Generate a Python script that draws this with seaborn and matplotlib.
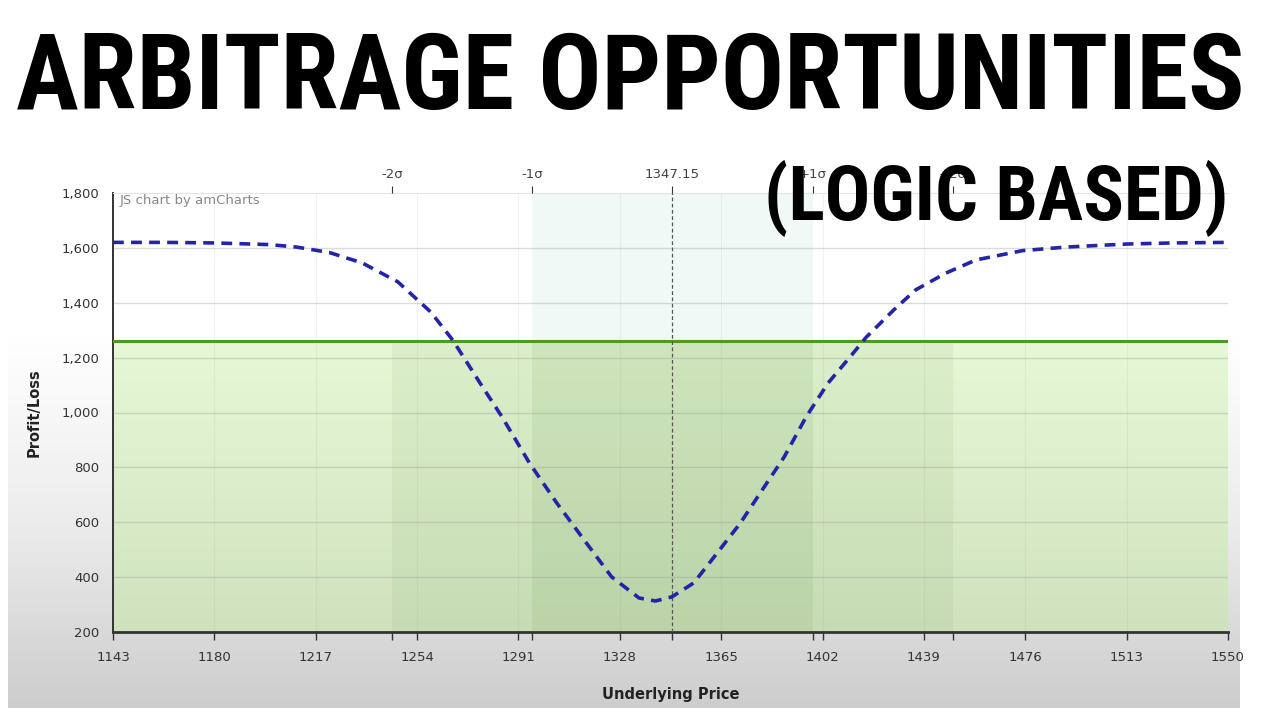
import numpy as np
import matplotlib
matplotlib.use('Agg')
import matplotlib.pyplot as plt
from matplotlib.colors import LinearSegmentedColormap
from matplotlib.ticker import FuncFormatter
import seaborn as sns

sns.set_style('white')
plt.rcParams['font.family'] = ['DejaVu Sans']

# underlying price vs profit/loss
price = [1143, 1162, 1180, 1200, 1210, 1222, 1234, 1247, 1259, 1267, 1277, 1285,
         1295, 1305, 1315, 1325, 1335, 1341, 1347, 1355, 1363, 1372, 1380, 1388,
         1396, 1404, 1412, 1418, 1428, 1436, 1447, 1458, 1475, 1491, 1513, 1530, 1550]
pnl = [1620, 1620, 1618, 1612, 1603, 1583, 1545, 1476, 1366, 1264, 1107, 984,
       816, 670, 535, 401, 324, 313, 328, 379, 481, 597, 718, 838,
       984, 1107, 1202, 1275, 1374, 1447, 1508, 1556, 1590, 1603, 1614, 1618, 1620]

x_ticks = [1143, 1180, 1217, 1254, 1291, 1328, 1365, 1402, 1439, 1476, 1513, 1550]
y_ticks = [200, 400, 600, 800, 1000, 1200, 1400, 1600, 1800]
center = 1347.15
sigma_pos = [1244.75, 1295.95, 1347.15, 1398.35, 1449.55]
sigma_labels = ['-2σ', '-1σ', '1347.15', '+1σ', '+2σ']
breakeven = 1260

fig = plt.figure(figsize=(12.8, 7.2), dpi=100)
fig.patch.set_facecolor('white')

# grey gradient panel behind the chart
bg = fig.add_axes([8 / 1280, 12 / 720, 1232 / 1280, 558 / 720], zorder=-5)
grad = np.linspace(0, 1, 256).reshape(-1, 1)
bg.imshow(grad, aspect='auto', cmap=LinearSegmentedColormap.from_list('bg', ['#cdcdcd', '#ececec', '#ffffff', '#ffffff']),
          extent=[0, 1, 0, 1], origin='lower')
bg.axis('off')

ax = fig.add_axes([113 / 1280, 1 - 632 / 720, 1115 / 1280, 439 / 720])
ax.set_facecolor('none')
ax.set_xlim(1143, 1550)
ax.set_ylim(200, 1800)

# green fill under the breakeven line
fill_cmap = LinearSegmentedColormap.from_list('fill', ['#cfe2bd', '#e7f8d7'])
ax.imshow(grad, aspect='auto', cmap=fill_cmap, extent=[1143, 1550, 200, breakeven],
          origin='lower', zorder=0)
ax.fill_between([sigma_pos[0], sigma_pos[4]], 200, breakeven, color='#5f8f45', alpha=0.08, lw=0, zorder=1)
ax.fill_between([sigma_pos[1], sigma_pos[3]], 200, breakeven, color='#5f8f45', alpha=0.10, lw=0, zorder=1)
ax.fill_between([sigma_pos[1], sigma_pos[3]], breakeven, 1800, color='#e2f4ec', alpha=0.5, lw=0, zorder=1)

for yv in y_ticks[1:-1]:
    ax.axhline(yv, color='#9a9a9a', lw=1, alpha=0.35, zorder=2)
for xv in x_ticks[1:-1]:
    ax.axvline(xv, color='#9a9a9a', lw=0.8, alpha=0.12, zorder=2)

ax.axhline(breakeven, color='#4c9a24', lw=2.2, zorder=3)
ax.axvline(center, color='#555555', lw=0.9, ls=(0, (3, 2)), zorder=3)

sns.lineplot(x=price, y=pnl, ax=ax, color='#2424a8', lw=2.6, linestyle=(0, (3, 2)), zorder=4)

ax.set_xticks(x_ticks)
ax.set_xticks(sigma_pos, minor=True)
ax.set_yticks(y_ticks)
ax.yaxis.set_major_formatter(FuncFormatter(lambda v, p: f'{int(v):,}'))
ax.tick_params(axis='both', which='both', direction='out', colors='#333333', labelcolor='#333333',
               labelsize=9.5, width=1, length=6)
ax.tick_params(axis='x', which='minor', length=6)
ax.tick_params(axis='x', pad=8)
ax.tick_params(axis='y', pad=4)
for s in ['left', 'bottom']:
    ax.spines[s].set_color('#333333')
ax.spines['left'].set_linewidth(1.4)
ax.spines['bottom'].set_linewidth(2)
ax.spines['right'].set_visible(False)
ax.spines['top'].set_color('#e4e4e4')
ax.set_xlabel('Underlying Price', fontsize=10.5, fontweight='bold', color='#222222', labelpad=16)
ax.set_ylabel('Profit/Loss', fontsize=10.5, fontweight='bold', color='#222222', labelpad=14)
ax.text(1145.5, 1772, 'JS chart by amCharts', fontsize=9.5, color='#888888', va='center', zorder=5)

top = ax.twiny()
top.set_xlim(ax.get_xlim())
top.set_xticks(sigma_pos)
top.set_xticklabels(sigma_labels)
top.tick_params(axis='x', direction='out', length=5, colors='#333333', labelcolor='#444444', labelsize=9.5, pad=4)
for s in top.spines.values():
    s.set_visible(False)

# overlay title, squeezed to the reference width
title_font = dict(family=['Roboto Condensed', 'Roboto', 'DejaVu Sans'], fontweight='black',
                  fontstretch='condensed', color='black', ha='center', va='center')
t1 = fig.text(0.492, 0.888, 'ARBITRAGE OPPORTUNITIES', fontsize=70, **title_font)
t2 = fig.text(0.778, 0.724, '(LOGIC BASED)', fontsize=50, **title_font)
fig.canvas.draw()
for t, target in [(t1, 1230), (t2, 465)]:
    w = t.get_window_extent().width
    t.set_fontsize(t.get_fontsize() * target / w)

fig.savefig('out.png', dpi=100)
